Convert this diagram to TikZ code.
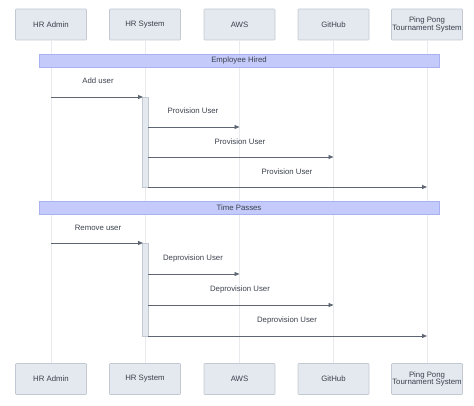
\documentclass[tikz,border=0pt]{standalone}
\usepackage{fontspec}
\setmainfont{Liberation Sans}
\usetikzlibrary{arrows.meta}
\definecolor{boxfill}{HTML}{E4E8EF}
\definecolor{boxline}{HTML}{C3C9D2}
\definecolor{txt}{HTML}{3A414C}
\definecolor{arr}{HTML}{5E6673}
\definecolor{barfill}{HTML}{C4CAFA}
\definecolor{barline}{HTML}{A9B1F0}
\definecolor{life}{HTML}{E8EAEE}
\begin{document}
\begin{tikzpicture}[x=1pt,y=-1pt,
  actor/.style={draw=boxline, fill=boxfill, minimum width=71pt, minimum height=31pt,
    inner sep=0pt, font=\fontsize{7.8}{7.4}\selectfont, text=txt, align=center,
    line width=0.6pt, rounded corners=0.8pt},
  lifeline/.style={draw=life, line width=0.6pt},
  notebar/.style={draw=barline, fill=barfill, minimum width=400pt, minimum height=13pt,
    inner sep=0pt, font=\fontsize{7.8}{9}\selectfont, text=txt, line width=0.5pt},
  activation/.style={draw=boxline, fill=boxfill, minimum width=6pt, inner sep=0pt, line width=0.6pt},
  msg/.style={draw=arr, line width=0.8pt, -{Triangle[length=5pt,width=4pt]}},
  lbl/.style={font=\fontsize{7.8}{9}\selectfont, text=txt, inner sep=0pt},
]
\useasboundingbox (0,0) rectangle (474,406);

% actors top
\node[actor] (a1) at (51,24.5) {HR Admin};
\node[actor] (a2) at (145,24.5) {HR System};
\node[actor] (a3) at (239.5,24.5) {AWS};
\node[actor] (a4) at (333.5,24.5) {GitHub};
\node[actor] (a5) at (427,24.5) {Ping Pong\\Tournament System};
% actors bottom
\node[actor] (b1) at (51,379) {HR Admin};
\node[actor] (b2) at (145,379) {HR System};
\node[actor] (b3) at (239.5,379) {AWS};
\node[actor] (b4) at (333.5,379) {GitHub};
\node[actor] (b5) at (427,379) {Ping Pong\\Tournament System};

% lifelines
\foreach \i in {1,...,5} {\draw[lifeline] (a\i.south) -- (b\i.north);}

% notes
\node[notebar] (n1) at (239,60.5) {\raisebox{-1pt}{Employee Hired}};
\node[notebar] (n2) at (239,207.5) {\raisebox{-1pt}{Time Passes}};

% activations
\node[activation, minimum height=90pt] (act1) at (145,142) {};
\node[activation, minimum height=93pt] (act2) at (145,289.5) {};

% coordinates
\coordinate (s1) at (51,97);
\coordinate (e1) at (143,97);
\coordinate (p1s) at (148,127);
\coordinate (p1e) at (239.5,127);
\coordinate (p2s) at (148,157);
\coordinate (p2e) at (333.5,157);
\coordinate (p3s) at (148,187);
\coordinate (p3e) at (427,187);
\coordinate (s2) at (51,243);
\coordinate (e2) at (143,243);
\coordinate (d1s) at (148,274);
\coordinate (d1e) at (239.5,274);
\coordinate (d2s) at (148,305);
\coordinate (d2e) at (333.5,305);
\coordinate (d3s) at (148,336);
\coordinate (d3e) at (427,336);

% messages
\draw[msg] (s1) -- (e1);
\node[lbl] (l1) at (98,81) {Add user};
\draw[msg] (p1s) -- (p1e);
\node[lbl] (l2) at (193,111) {Provision User};
\draw[msg] (p2s) -- (p2e);
\node[lbl] (l3) at (240,141.5) {Provision User};
\draw[msg] (p3s) -- (p3e);
\node[lbl] (l4) at (287,171.5) {Provision User};

\draw[msg] (s2) -- (e2);
\node[lbl] (l5) at (98,228) {Remove user};
\draw[msg] (d1s) -- (d1e);
\node[lbl] (l6) at (193,258) {Deprovision User};
\draw[msg] (d2s) -- (d2e);
\node[lbl] (l7) at (240,289) {Deprovision User};
\draw[msg] (d3s) -- (d3e);
\node[lbl] (l8) at (287,320) {Deprovision User};
\end{tikzpicture}
\end{document}
